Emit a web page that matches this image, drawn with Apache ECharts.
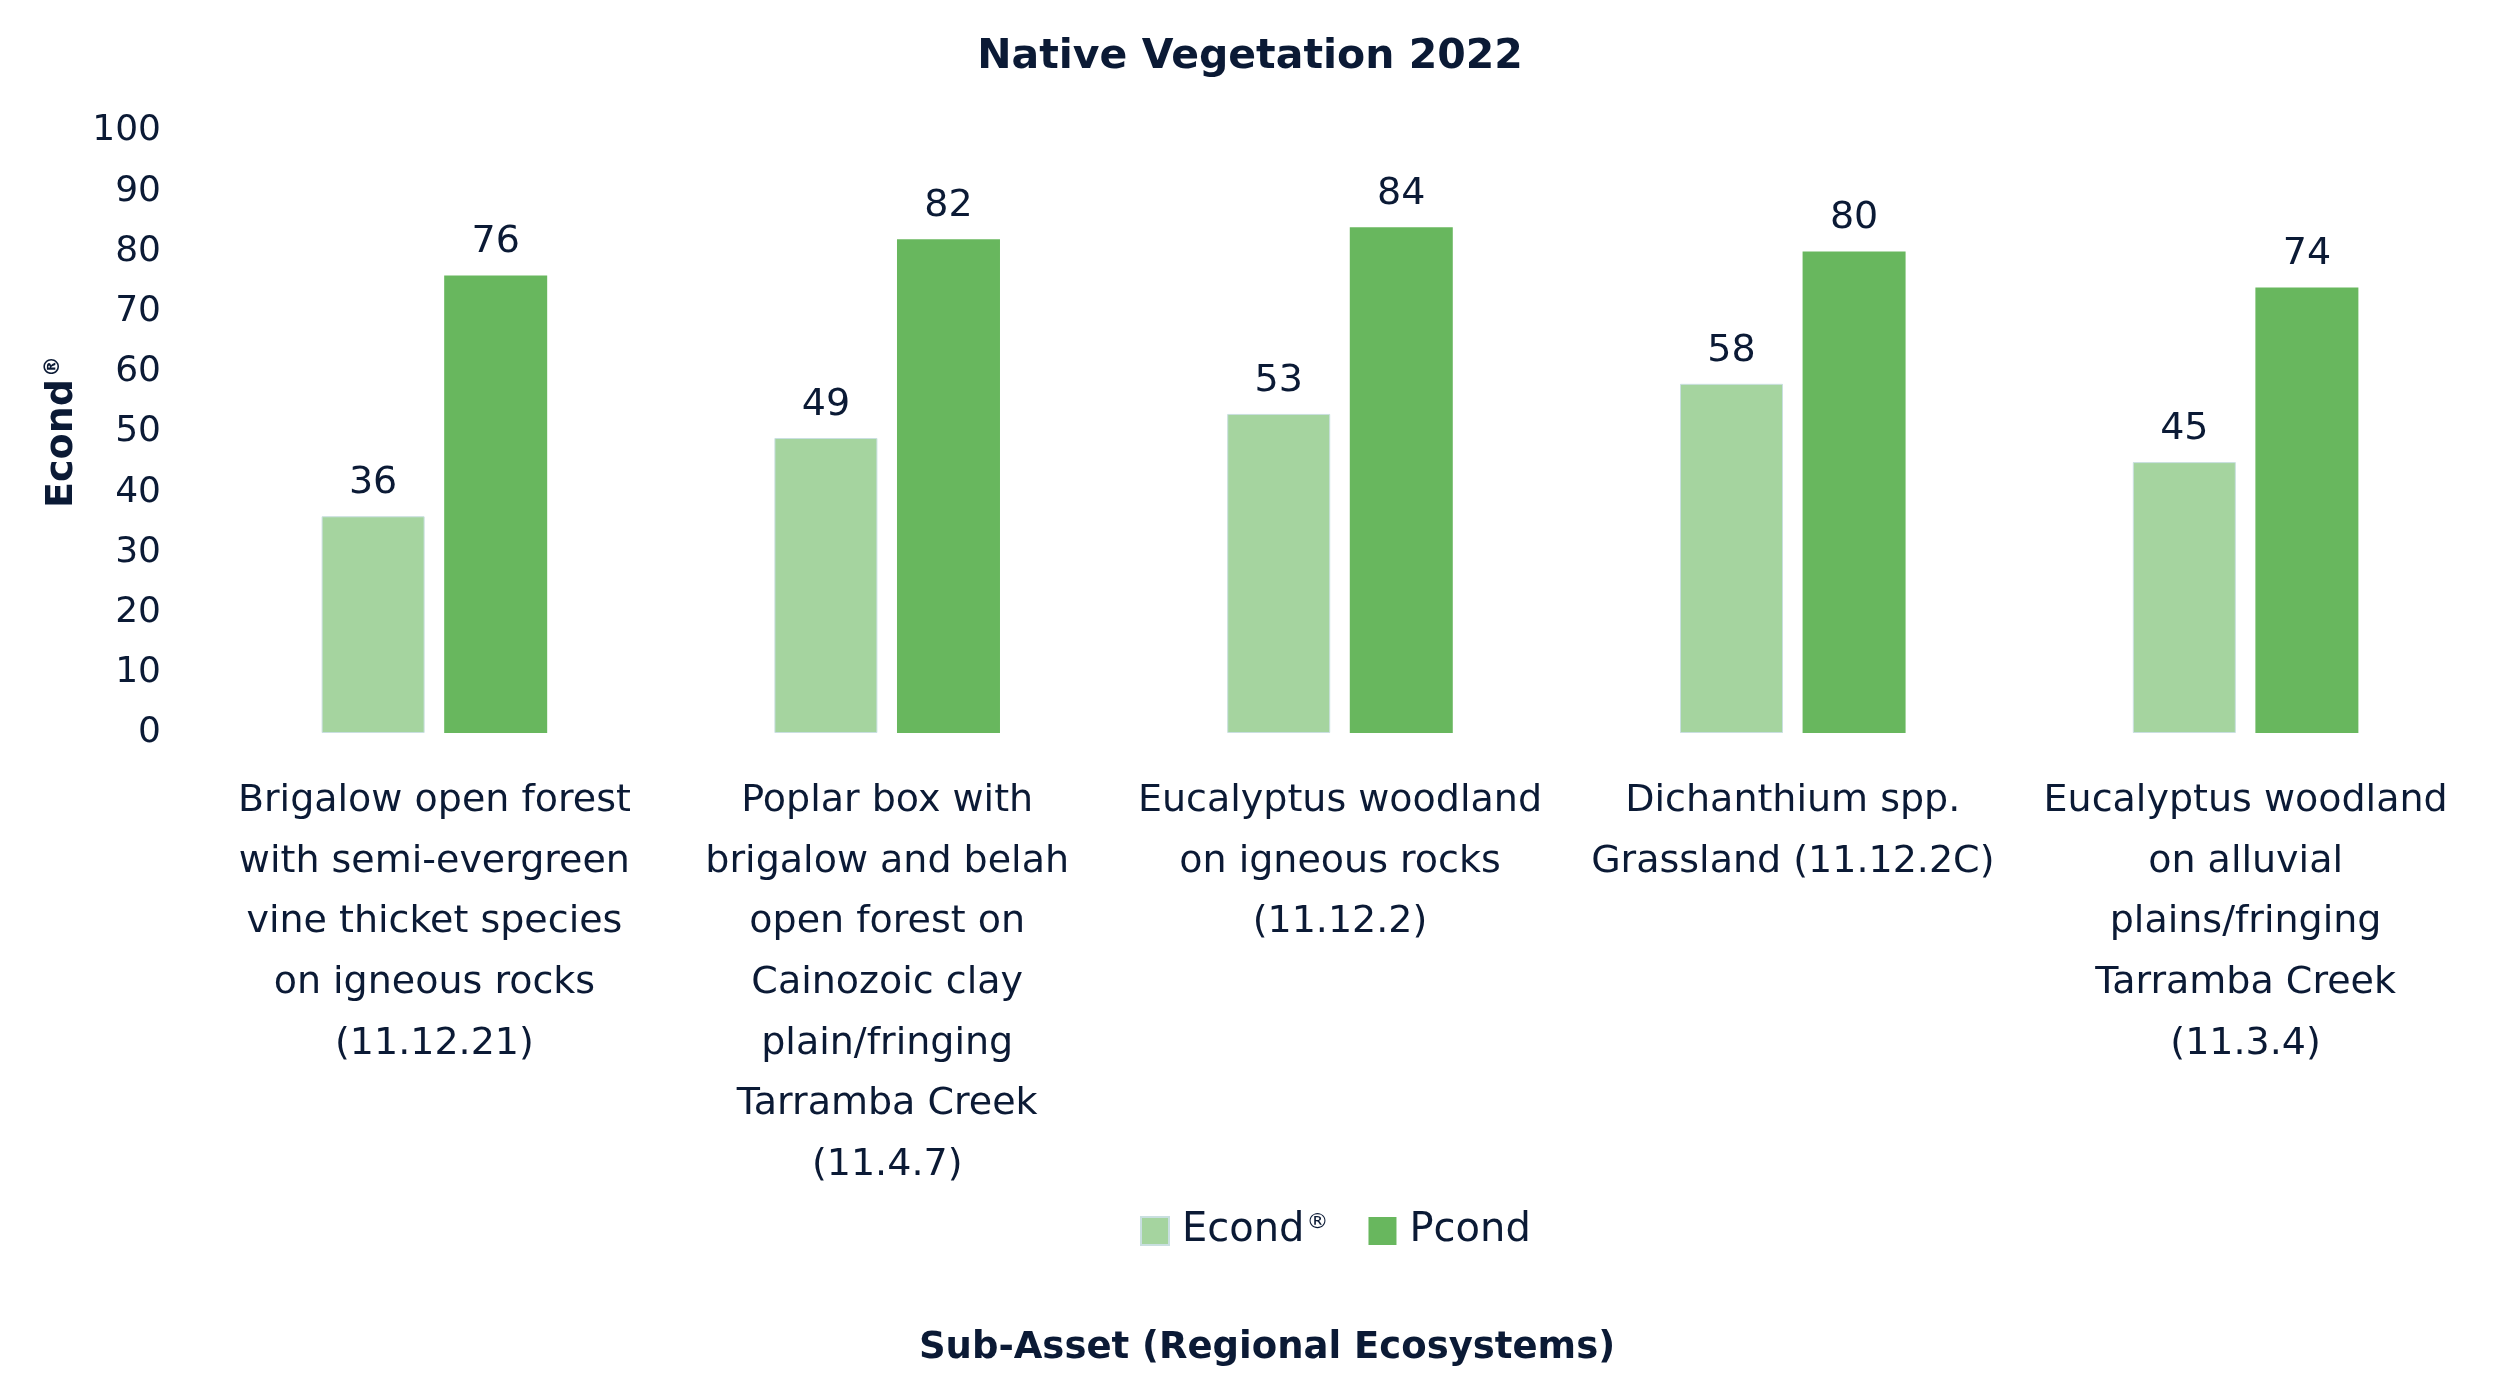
<!DOCTYPE html>
<html>
<head>
<meta charset="utf-8">
<script src="https://cdn.jsdelivr.net/npm/echarts@6/dist/echarts.min.js"></script>
<style>
html,body{margin:0;padding:0;background:#fff;}
#chart{width:2500px;height:1379px;}
</style>
</head>
<body>
<div id="chart"></div>
<script>
const categories = [
  "Brigalow open forest\nwith semi-evergreen\nvine thicket species\non igneous rocks\n(11.12.21)",
  "Poplar box with\nbrigalow and belah\nopen forest on\nCainozoic clay\nplain/fringing\nTarramba Creek\n(11.4.7)",
  "Eucalyptus woodland\non igneous rocks\n(11.12.2)",
  "Dichanthium spp.\nGrassland (11.12.2C)",
  "Eucalyptus woodland\non alluvial\nplains/fringing\nTarramba Creek\n(11.3.4)"
];
const econdValues = [36, 49, 53, 58, 45];
const pcondValues = [76, 82, 84, 80, 74];
const seriesNames = ["Econd®", "Pcond"];
const chartTitle = "Native Vegetation 2022";
const xAxisTitle = "Sub-Asset (Regional Ecosystems)";
const yAxisTitle = "Econd®";

const FONT = "DejaVu Sans";
const TXT = "#0b1a35";
const LIGHT = "#a5d49f";
const DARK = "#68b75e";

const regRich = {
  a: {fontFamily: FONT, fontSize: 40, color: TXT},
  r: {fontFamily: FONT, fontSize: 22, color: TXT, verticalAlign: 'top', padding: [0,0,14,2]}
};

const chart = echarts.init(document.getElementById('chart'), null, {renderer: 'canvas'});
chart.setOption({
  backgroundColor: '#ffffff',
  animation: false,
  title: {
    text: chartTitle,
    left: 'center',
    top: 37,
    padding: 0,
    textStyle: {fontFamily: FONT, fontSize: 41, fontWeight: 'bold', color: TXT}
  },
  legend: {
    data: seriesNames,
    left: 1135,
    top: 1206,
    itemWidth: 28,
    itemHeight: 28,
    itemGap: 40,
    icon: 'rect',
    formatter: function (name) {
      return name === 'Econd®' ? '{a|Econd}{r|®}' : '{a|' + name + '}';
    },
    textStyle: {
      fontFamily: FONT, fontSize: 40, color: TXT, padding: [0, 0, 0, 8],
      rich: regRich
    }
  },
  grid: {left: 208, right: 28, top: 131, bottom: 646, containLabel: false},
  xAxis: {
    type: 'category',
    data: categories,
    axisLine: {show: false},
    axisTick: {show: false},
    axisLabel: {
      interval: 0,
      margin: 38,
      fontFamily: FONT,
      fontSize: 38,
      lineHeight: 60.6,
      color: TXT,
      align: 'center'
    },
    name: xAxisTitle,
    nameLocation: 'middle',
    nameGap: 597,
    nameTextStyle: {
      fontFamily: FONT, fontSize: 37, fontWeight: 'bold', color: TXT,
      padding: [0, 146, 0, 0]
    }
  },
  yAxis: {
    type: 'value',
    min: 0,
    max: 100,
    interval: 10,
    axisLine: {show: false},
    axisTick: {show: false},
    splitLine: {show: false},
    axisLabel: {fontFamily: FONT, fontSize: 36, color: TXT, margin: 47},
    name: '{b|Econd}{s|®}',
    nameLocation: 'middle',
    nameRotate: 90,
    nameGap: 124,
    nameTextStyle: {
      rich: {
        b: {fontFamily: FONT, fontSize: 38, fontWeight: 'bold', color: TXT},
        s: {fontFamily: FONT, fontSize: 21, fontWeight: 'bold', color: TXT, verticalAlign: 'top', padding: [0,0,14,2]}
      }
    }
  },
  series: [
    {
      name: seriesNames[0],
      type: 'bar',
      data: econdValues,
      barWidth: 103,
      barGap: '19%',
      itemStyle: {color: LIGHT, borderColor: '#c9dfe0', borderWidth: 1},
      label: {show: true, position: 'top', distance: 14, fontFamily: FONT, fontSize: 38, color: TXT}
    },
    {
      name: seriesNames[1],
      type: 'bar',
      data: pcondValues,
      barWidth: 103,
      barGap: '19%',
      itemStyle: {color: DARK},
      label: {show: true, position: 'top', distance: 14, fontFamily: FONT, fontSize: 38, color: TXT}
    }
  ]
});
</script>
</body>
</html>
